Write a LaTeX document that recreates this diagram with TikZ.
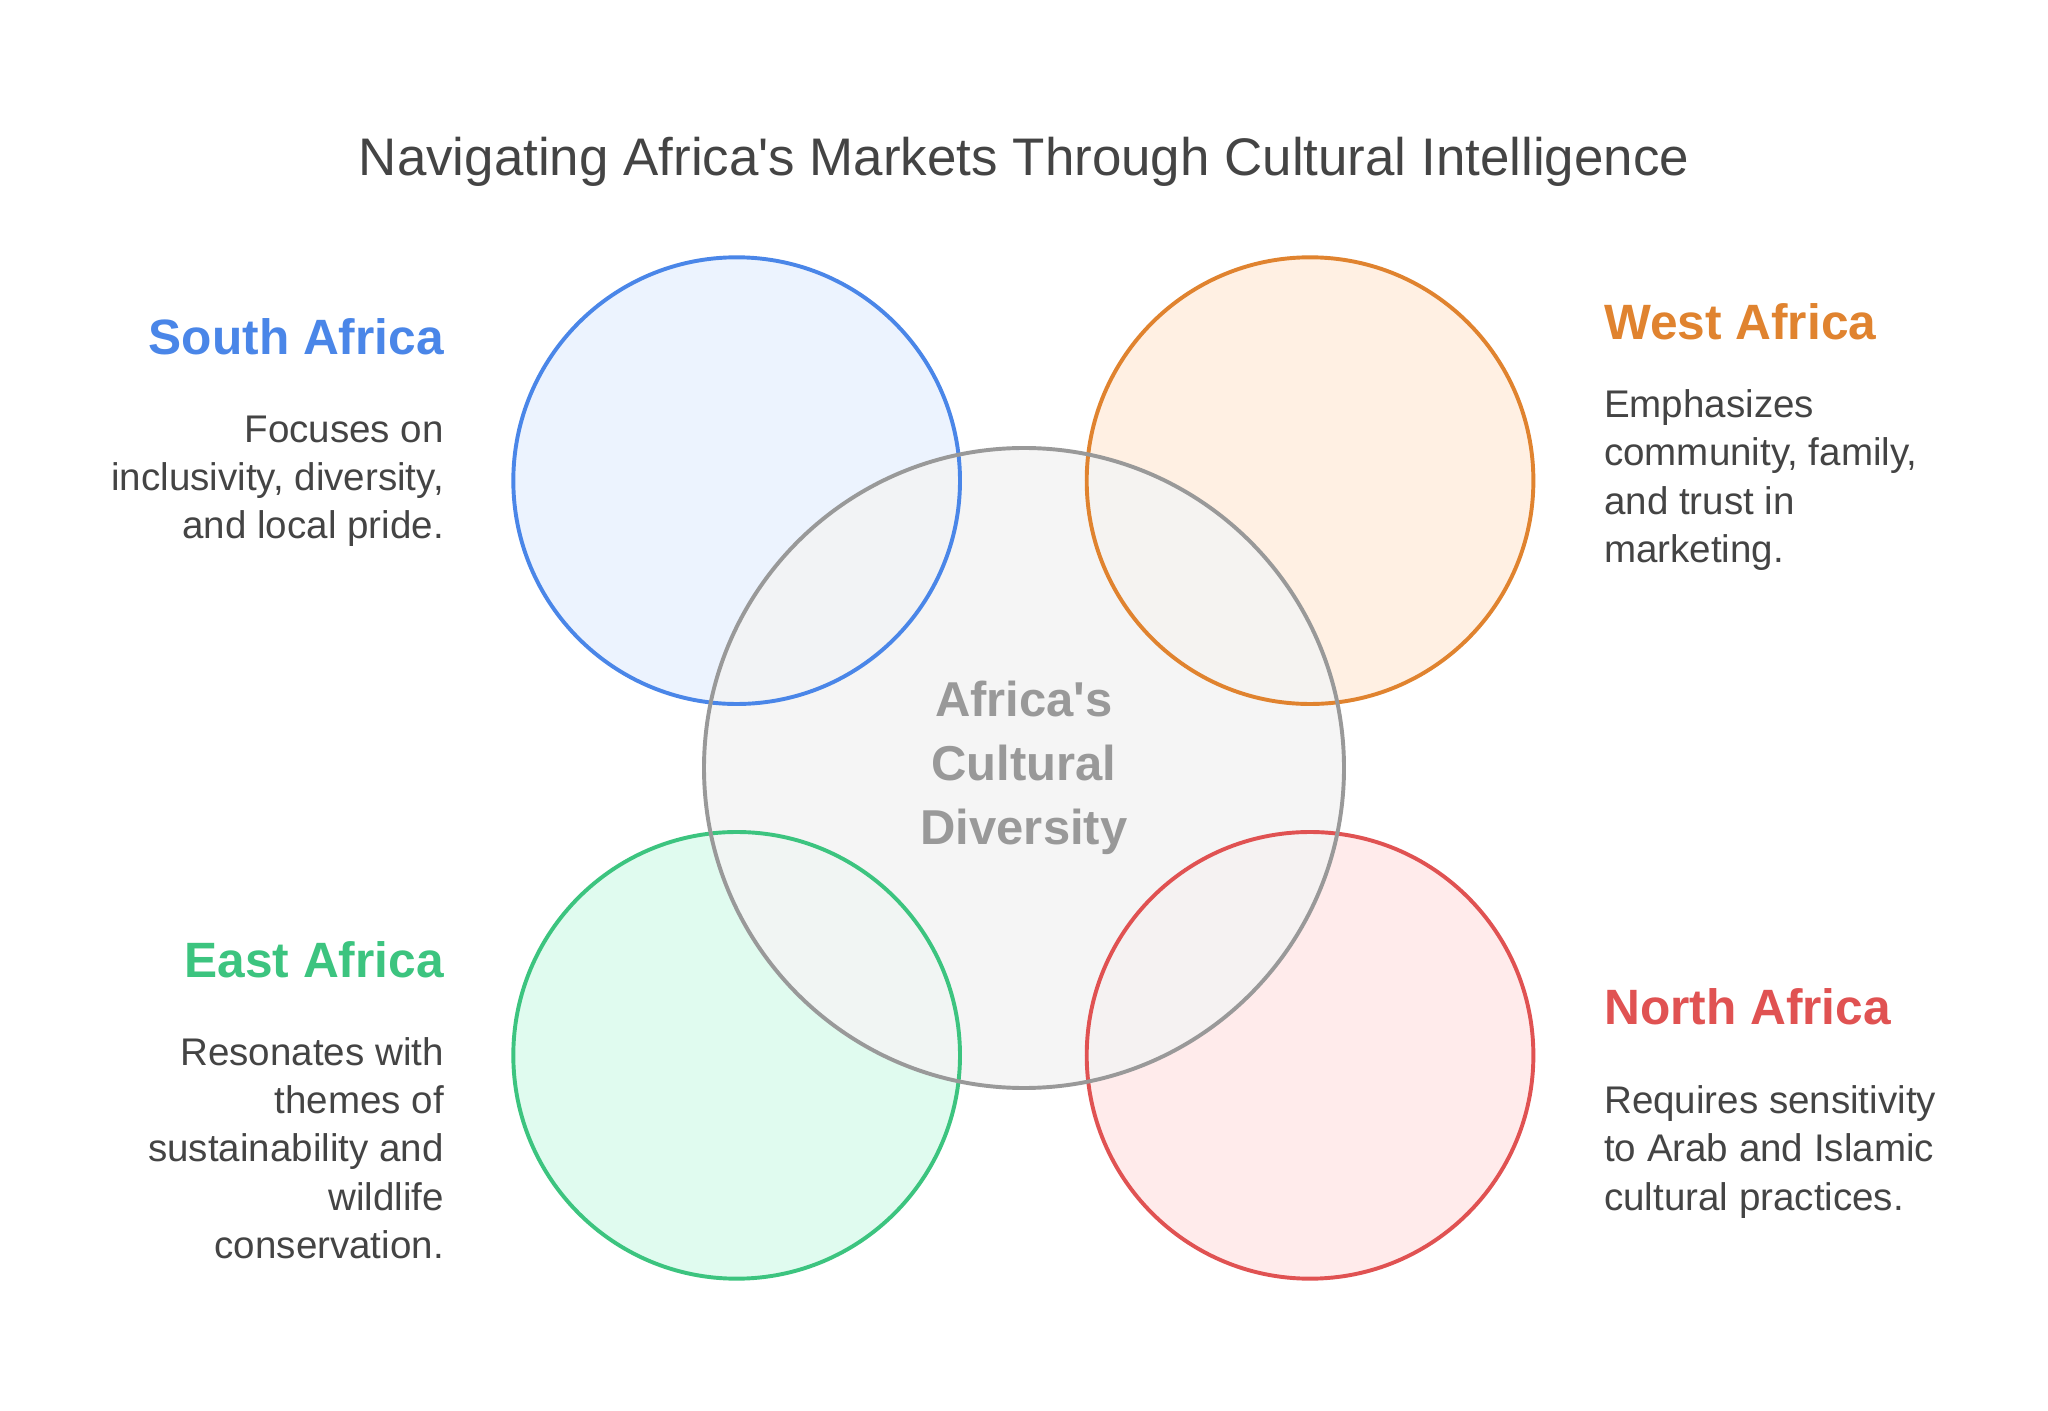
\documentclass[tikz,border=0pt]{standalone}
\usepackage{fontspec}
\setmainfont{Liberation Sans}
\definecolor{cb}{HTML}{4A86E8}\definecolor{fb}{HTML}{ECF3FE}
\definecolor{co}{HTML}{E0832F}\definecolor{fo}{HTML}{FFF0E3}
\definecolor{cg}{HTML}{3CC47F}\definecolor{fg}{HTML}{E0FBEF}
\definecolor{cr}{HTML}{E05252}\definecolor{fr}{HTML}{FFEBEB}
\definecolor{cc}{HTML}{999999}\definecolor{fc}{HTML}{F4F4F4}
\definecolor{tx}{HTML}{444444}
\begin{document}
\begin{tikzpicture}[x=1pt,y=1pt,
 head/.style={font=\fontsize{38}{42}\selectfont\bfseries},
 body/.style={font=\fontsize{29.5}{37}\selectfont,text=tx,inner sep=0pt},
 ring/.style={line width=3pt}]
\useasboundingbox[fill=white] (0,0) rectangle (1568,1080);
\node[font=\fontsize{40.5}{44}\selectfont,text=tx] (title) at (784,956) {Navigating Africa\textquotesingle s Markets Through Cultural Intelligence};
\coordinate (cS) at (564,712); \coordinate (cW) at (1003,712);
\coordinate (cE) at (564,272); \coordinate (cN) at (1003,272);
\coordinate (cC) at (784,492);
\fill[fb] (cS) circle (171); \fill[fo] (cW) circle (171);
\fill[fg] (cE) circle (171); \fill[fr] (cN) circle (171);
\fill[fc,opacity=0.85] (cC) circle (245);
\draw[ring,cb] (cS) circle (171); \draw[ring,co] (cW) circle (171);
\draw[ring,cg] (cE) circle (171); \draw[ring,cr] (cN) circle (171);
\draw[ring,cc] (cC) circle (245);
\node[font=\fontsize{37.5}{49}\selectfont\bfseries,text=cc,align=center] (ctr) at (cC) {Africa\textquotesingle s\\Cultural\\Diversity};
\node[head,text=cb,anchor=east,inner sep=0pt] (hS) at (340,822) {South Africa};
\node[body,anchor=north east,align=right] (bS) at (340,762) {Focuses on\\inclusivity, diversity,\\and local pride.};
\node[head,text=co,anchor=west,inner sep=0pt] (hW) at (1228,834) {West Africa};
\node[body,anchor=north west,align=left] (bW) at (1228,782) {Emphasizes\\community, family,\\and trust in\\marketing.};
\node[head,text=cg,anchor=east,inner sep=0pt] (hE) at (340,345) {East Africa};
\node[body,anchor=north east,align=right] (bE) at (340,286) {Resonates with\\themes of\\sustainability and\\wildlife\\conservation.};
\node[head,text=cr,anchor=west,inner sep=0pt] (hN) at (1228,309) {North Africa};
\node[body,anchor=north west,align=left] (bN) at (1228,249) {Requires sensitivity\\to Arab and Islamic\\cultural practices.};
\end{tikzpicture}
\end{document}
